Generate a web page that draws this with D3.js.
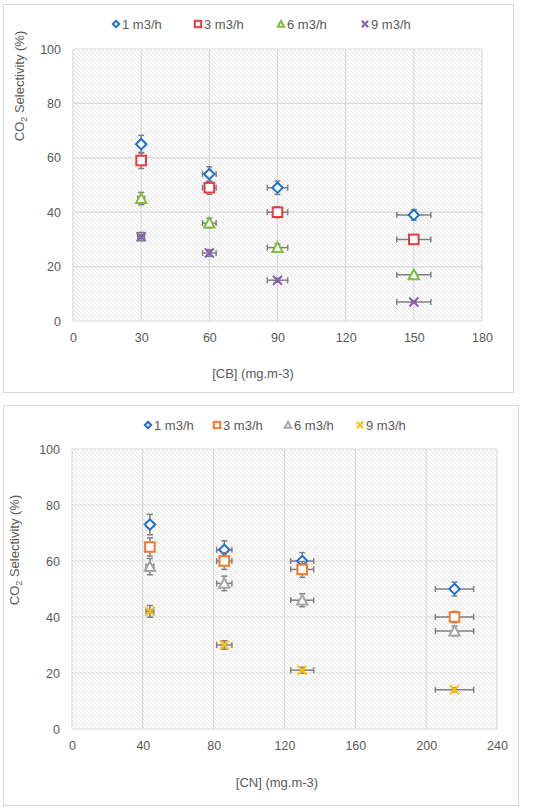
<!DOCTYPE html>
<html><head><meta charset="utf-8">
<script src="https://cdn.jsdelivr.net/npm/d3@7"></script>
<style>
body{margin:0;background:#fff;}
text{font-family:"Liberation Sans",Arial,sans-serif;fill:#595959;}
</style></head>
<body><svg id="c" width="550" height="809"></svg>
<script>
// ---- data ----
const seriesNames = ["1 m3/h","3 m3/h","6 m3/h","9 m3/h"];
const cbX = [30,60,90,150];
const cb1 = [65,54,49,39];
const cb3 = [59,49,40,30];
const cb6 = [45,36,27,17];
const cb9 = [31,25,15,7];
const cnX = [44,86,130,216];
const cn1 = [73,64,60,50];
const cn3 = [65,60,57,40];
const cn6 = [58,52,46,35];
const cn9 = [42,30,21,14];
const errorPercent = 5; // percentage error bars (x and y)
const cbTicks = [0,30,60,90,120,150,180];
const cnTicks = [0,40,80,120,160,200,240];
const yTicks = [0,20,40,60,80,100];

const svg = d3.select("#c");
const defs = svg.append("defs");
const pat = defs.append("pattern").attr("id","hatch").attr("patternUnits","userSpaceOnUse")
  .attr("width",4).attr("height",4);
pat.append("rect").attr("width",4).attr("height",4).attr("fill","#fff");
pat.append("path").attr("d","M-1,-1 L5,5 M-1,3 L1,5 M3,-1 L5,1")
  .attr("stroke","#d2d2d2").attr("stroke-width",0.6);

function marker(g, shape, color, s, cx, cy){
  if(shape==="diamond"){
    g.append("path").attr("d",`M${cx},${cy-s} L${cx+s},${cy} L${cx},${cy+s} L${cx-s},${cy} Z`)
     .attr("fill","#fff").attr("stroke",color).attr("stroke-width",2);
  } else if(shape==="square"){
    g.append("rect").attr("x",cx-s).attr("y",cy-s).attr("width",2*s).attr("height",2*s)
     .attr("fill","#fff").attr("stroke",color).attr("stroke-width",2);
  } else if(shape==="triangle"){
    g.append("path").attr("d",`M${cx},${cy-s} L${cx+s},${cy+s*0.85} L${cx-s},${cy+s*0.85} Z`)
     .attr("fill","#fff").attr("stroke",color).attr("stroke-width",2).attr("stroke-linejoin","miter");
  } else {
    g.append("path").attr("d",`M${cx-s},${cy-s} L${cx+s},${cy+s} M${cx-s},${cy+s} L${cx+s},${cy-s}`)
     .attr("fill","none").attr("stroke",color).attr("stroke-width",2);
  }
}

function chart(cfg){
  const g = svg.append("g");
  g.append("rect").attr("x",cfg.box[0]).attr("y",cfg.box[1]).attr("width",cfg.box[2]).attr("height",cfg.box[3])
    .attr("fill","#fff").attr("stroke","#d9d9d9").attr("stroke-width",1);
  const x = d3.scaleLinear().domain(cfg.xDomain).range([cfg.pl,cfg.pr]);
  const y = d3.scaleLinear().domain([0,100]).range([cfg.pb,cfg.pt]);
  g.append("rect").attr("x",cfg.pl).attr("y",cfg.pt).attr("width",cfg.pr-cfg.pl).attr("height",cfg.pb-cfg.pt)
    .attr("fill","url(#hatch)");
  // grid
  g.selectAll(".gx").data(cfg.xTicks).join("line")
    .attr("x1",d=>x(d)).attr("x2",d=>x(d)).attr("y1",cfg.pt).attr("y2",cfg.pb)
    .attr("stroke","#d9d9d9").attr("stroke-width",1.2);
  g.selectAll(".gy").data(yTicks).join("line")
    .attr("x1",cfg.pl).attr("x2",cfg.pr).attr("y1",d=>y(d)).attr("y2",d=>y(d))
    .attr("stroke","#d9d9d9").attr("stroke-width",1.2);
  // axes via d3
  const ax = g.append("g").attr("transform",`translate(0,${cfg.pb})`)
    .call(d3.axisBottom(x).tickValues(cfg.xTicks).tickSize(0).tickPadding(cfg.xPad));
  ax.select(".domain").remove();
  ax.selectAll("text").attr("font-size",12.5).attr("fill","#595959").style("font-family","'Liberation Sans',Arial,sans-serif");
  const ay = g.append("g").attr("transform",`translate(${cfg.pl},0)`)
    .call(d3.axisLeft(y).tickValues(yTicks).tickSize(0).tickPadding(cfg.yPad));
  ay.select(".domain").remove();
  ay.selectAll("text").attr("font-size",12.5).attr("fill","#595959").style("font-family","'Liberation Sans',Arial,sans-serif");
  // titles
  g.append("text").attr("x",cfg.xTitle[0]).attr("y",cfg.xTitle[1]).attr("text-anchor","middle")
    .attr("font-size",13).text(cfg.xLabel);
  const yt = g.append("text").attr("transform",`translate(${cfg.yTitle[0]},${cfg.yTitle[1]}) rotate(-90)`)
    .attr("text-anchor","middle").attr("font-size",13);
  yt.append("tspan").text("CO");
  yt.append("tspan").attr("font-size",9).attr("dy",3).text("2");
  yt.append("tspan").attr("dy",-3).text(" Selectivity (%)");
  // series
  const shapes = ["diamond","square","triangle","x"];
  cfg.series.forEach((vals,si)=>{
    const sg = g.append("g");
    vals.forEach((v,i)=>{
      const xv = cfg.xs[i];
      const ex = xv*errorPercent/100, ey = v*errorPercent/100;
      const eg = sg.append("g").attr("stroke","#7f7f7f").attr("stroke-width",1.5);
      eg.append("line").attr("x1",x(xv-ex)).attr("x2",x(xv+ex)).attr("y1",y(v)).attr("y2",y(v));
      eg.append("line").attr("x1",x(xv-ex)).attr("x2",x(xv-ex)).attr("y1",y(v)-3).attr("y2",y(v)+3);
      eg.append("line").attr("x1",x(xv+ex)).attr("x2",x(xv+ex)).attr("y1",y(v)-3).attr("y2",y(v)+3);
      eg.append("line").attr("x1",x(xv)).attr("x2",x(xv)).attr("y1",y(v-ey)).attr("y2",y(v+ey));
      eg.append("line").attr("x1",x(xv)-3).attr("x2",x(xv)+3).attr("y1",y(v-ey)).attr("y2",y(v-ey));
      eg.append("line").attr("x1",x(xv)-3).attr("x2",x(xv)+3).attr("y1",y(v+ey)).attr("y2",y(v+ey));
    });
    vals.forEach((v,i)=>{
      const s = shapes[si]==="square"?4.8:(shapes[si]==="x"?4.5:5.2);
      marker(sg, shapes[si], cfg.colors[si], s, x(cfg.xs[i]), y(v));
    });
  });
  // legend
  seriesNames.forEach((n,i)=>{
    const lx = cfg.legendX[i], ly = cfg.legendY;
    marker(g, shapes[i], cfg.colors[i], 3.2, lx, ly);
    g.append("text").attr("x",lx+6).attr("y",ly+4.5).attr("font-size",13).text(n);
  });
}

chart({
  box:[3.5,4.5,510,388], pl:73, pr:482, pt:49, pb:321,
  xDomain:[0,180], xTicks:cbTicks, xs:cbX, series:[cb1,cb3,cb6,cb9],
  colors:["#1f73cc","#e8393c","#7fbf3f","#8a5cb0"],
  xPad:12, yPad:12, xLabel:"[CB] (mg.m-3)", xTitle:[253,378], yTitle:[24,86],
  legendX:[116,198,281,365], legendY:24
});
chart({
  box:[3.5,405.5,515,400], pl:72, pr:497, pt:449, pb:729,
  xDomain:[0,240], xTicks:cnTicks, xs:cnX, series:[cn1,cn3,cn6,cn9],
  colors:["#1f6fd6","#f5782a","#a5a5a5","#ffc000"],
  xPad:12, yPad:12, xLabel:"[CN] (mg.m-3)", xTitle:[277,787], yTitle:[19,550],
  legendX:[148,217,288,360], legendY:425
});
</script></body></html>
